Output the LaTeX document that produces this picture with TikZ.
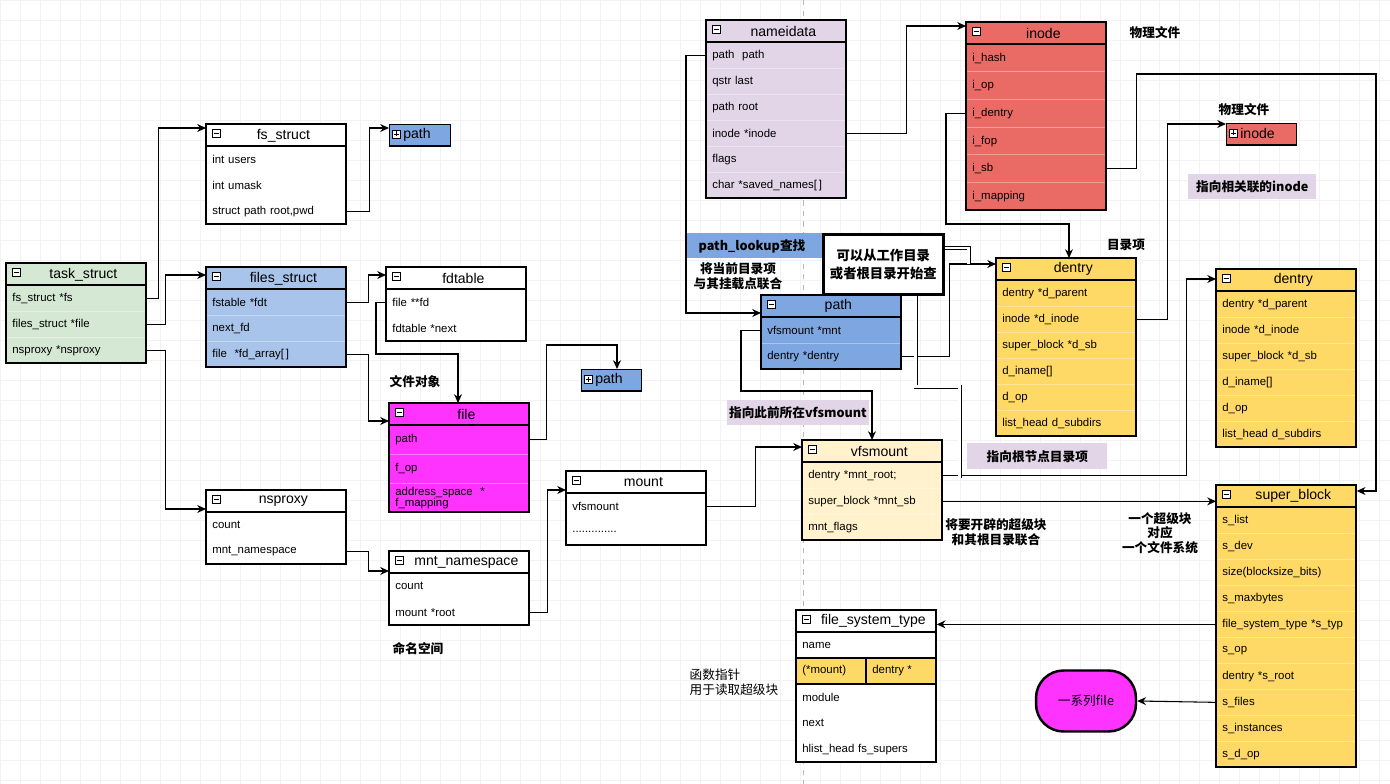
\documentclass[tikz,border=0pt]{standalone}
\usepackage{fontspec}
\setmainfont{Liberation Sans}
\newfontfamily\cjk{Noto Sans CJK SC}
\usetikzlibrary{calc,arrows.meta}
\definecolor{tgreen}{HTML}{D5E8D4}
\definecolor{tblue}{HTML}{A9C4EB}
\definecolor{tpath}{HTML}{7EA6E0}
\definecolor{tmag}{HTML}{FF33FF}
\definecolor{tpurp}{HTML}{E1D5E7}
\definecolor{tred}{HTML}{EA6B66}
\definecolor{tden}{HTML}{FFD966}
\definecolor{tyel}{HTML}{FFF2CC}
\tikzset{
  hdr/.style={inner sep=0pt, font=\fontsize{8}{9}\selectfont},
  row/.style={font=\fontsize{6.5}{7.6}\selectfont, align=left, inner xsep=0.12cm, inner ysep=0pt},
  arr/.style={line width=0.6pt, -{Stealth[length=5pt,width=4.5pt]}},
  dbl/.style={line width=0.5pt, double=white, double distance=1.3pt},
  lbl/.style={font=\cjk\bfseries\fontsize{7.2}{8.6}\selectfont, align=center, inner sep=1pt},
  plbl/.style={lbl, fill=tpurp, anchor=north west},
  cbox/.style={draw, line width=0.6pt, anchor=north west, minimum height=0.43cm, inner sep=0pt, font=\fontsize{8}{9}\selectfont}
}
\newcommand\ubox[9]{%
  \pgfmathsetlengthmacro\bw{#4*0.02cm}%
  \pgfmathsetlengthmacro\bh{#5*0.02cm}%
  \pgfmathsetlengthmacro\rh{#6*0.02cm}%
  \pgfmathsetlengthmacro\tw{(#4-12)*0.02cm}%
  \node[hdr, fill=#7, minimum width=\bw, minimum height=\bh, anchor=north west] (#1) at (#2,#3) {\hspace{8pt}#8};
  \foreach \rowtxt [count=\i] in {#9}{%
    \node[row, fill=#7, minimum height=\rh, text width=\tw, anchor=north west] (#1-\i) at ({#2},{#3+#5+(\i-1)*#6}) {\rowtxt};
    \draw[white, opacity=.35, line width=0.5pt] ({#2},{#3+#5+(\i-1)*#6}) -- ++(#4,0);
    \xdef\nr{\i}}%
  \draw[line width=0.6pt] (#2,#3) rectangle ({#2+#4},{#3+#5+\nr*#6});
  \draw[line width=0.6pt] (#2,{#3+#5}) -- ++(#4,0);
  \draw[fill=white, line width=0.4pt] ({#2+6},{#3+5}) rectangle ++(8,8);
  \draw[line width=0.5pt] ({#2+7.5},{#3+9}) -- ++(5,0);
}
\newcommand\cicon[2]{%
  \draw[fill=white, line width=0.4pt] ({#1+3},{#2+6}) rectangle ++(8,8);
  \draw[line width=0.5pt] ({#1+4.5},{#2+10}) -- ++(5,0) ({#1+7},{#2+7.5}) -- ++(0,5);
}
\begin{document}
\begin{tikzpicture}[x=0.02cm,y=-0.02cm]
\useasboundingbox (0,0) rectangle (1390,784);
\fill[white] (0,0) rectangle (1390,784);
\draw[gray!10, line width=0.3pt, step=0.4cm] (0,0) grid (1390,784);
\draw[gray!55, dashed, line width=0.4pt] (803,0) -- (803,784);

% boxes
\ubox{task}{6}{263}{140}{22}{26}{tgreen}{task\_struct}{fs\_struct *fs, files\_struct *file, nsproxy *nsproxy}
\ubox{fs}{206}{124}{140}{22}{26}{white}{fs\_struct}{int users, int umask, {struct path root,pwd}}
\ubox{files}{206}{267}{140}{22}{26}{tblue}{files\_struct}{fstable *fdt, next\_fd, {file \ *fd\_array[\,]}}
\ubox{fdt}{386}{267}{140}{22}{26}{white}{fdtable}{file **fd, fdtable *next}
\ubox{file}{389}{403}{140}{22}{29}{tmag}{file}{path, f\_op, {address\_space \ *\\[-1pt]f\_mapping}}
\ubox{nsp}{206}{490}{140}{22}{26}{white}{nsproxy}{count, mnt\_namespace}
\ubox{mns}{389}{551}{140}{22}{26}{white}{mnt\_namespace}{count, mount *root}
\ubox{mount}{566}{471}{140}{22}{26}{white}{mount}{vfsmount, {\mbox{..............}}}
\ubox{vfs}{802}{440}{140}{22}{26}{tyel}{vfsmount}{dentry *mnt\_root;, super\_block *mnt\_sb, mnt\_flags}
\ubox{pth}{761}{295}{140}{22}{26}{tpath}{path}{vfsmount *mnt, dentry *dentry}
\ubox{nd}{706}{20}{140}{22}{26}{tpurp}{nameidata}{path\ \ path, qstr last, path root, inode *inode, flags, {char *saved\_names[\,]}}
\ubox{inode}{966}{22}{140}{22}{27.67}{tred}{inode}{i\_hash, i\_op, i\_dentry, i\_fop, i\_sb, i\_mapping}
\ubox{den1}{996}{258}{140}{22}{26}{tden}{dentry}{dentry *d\_parent, inode *d\_inode, super\_block *d\_sb, d\_iname[], d\_op, list\_head d\_subdirs}
\ubox{den2}{1216}{269}{140}{22}{26}{tden}{dentry}{dentry *d\_parent, inode *d\_inode, super\_block *d\_sb, d\_iname[], d\_op, list\_head d\_subdirs}
\ubox{sb}{1216}{485}{140}{22}{26}{tden}{super\_block}{s\_list, s\_dev, size(blocksize\_bits), s\_maxbytes, {\mbox{file\_system\_type *s\_typ}}, s\_op, dentry *s\_root, s\_files, s\_instances, s\_d\_op}
\ubox{fst}{796}{610}{140}{22}{26}{white}{file\_system\_type}{name, {}, module, next, hlist\_head fs\_supers}
\fill[tden] (796,658) rectangle (936,684);
\draw[line width=0.6pt] (796,658) rectangle (936,684) (866,658) -- (866,684);
\node[row, anchor=west] (fsa) at (796,671) {(*mount)};
\node[row, anchor=west] (fsb) at (866,671) {dentry *};

% collapsed boxes
\node[cbox, fill=tpath, minimum width=1.22cm] (path1) at (389,124) {};
\cicon{389}{124}\node[hdr, anchor=west] at (403,134.5) {path};
\node[cbox, fill=tpath, minimum width=1.2cm] (path2) at (581,369) {};
\cicon{581}{369}\node[hdr, anchor=west] at (595,379.5) {path};
\node[cbox, fill=tred, minimum width=1.4cm] (inode2) at (1226,123) {};
\cicon{1226}{123}\node[hdr, anchor=west] at (1240,133.5) {inode};

% blob
\node[draw, fill=tmag, line width=1.4pt, rounded corners=0.55cm, minimum width=2cm, minimum height=1.22cm, font=\cjk\fontsize{7.2}{8}\selectfont] (blob) at (1086,701) {一系列file};

% labels
\node[fill=tpath, minimum width=3cm, minimum height=0.5cm, anchor=north west, inner sep=0] (plbar) at (686,233) {};
\node[lbl] (pl) at (752,246) {path\_lookup查找};
\node[draw, line width=1.5pt, fill=white, minimum width=2.4cm, minimum height=1.2cm, anchor=north west, lbl, font=\cjk\bfseries\fontsize{7.6}{10}\selectfont] (note) at (822,233) {可以从工作目录\\或者根目录开始查};
\node[lbl] (l1) at (738,276) {将当前目录项\\与其挂载点联合};
\node[lbl] (l2) at (415,382) {文件对象};
\node[lbl] (l3) at (418,649) {命名空间};
\node[plbl, minimum width=2.78cm, minimum height=0.5cm] (l4) at (727,400) {指向此前所在vfsmount};
\node[plbl, minimum width=2.8cm, minimum height=0.52cm] (l5) at (967,443) {指向根节点目录项};
\node[plbl, minimum width=2.56cm, minimum height=0.5cm] (l6) at (1188,174) {指向相关联的inode};
\node[lbl] (l7) at (1126,245) {目录项};
\node[lbl] (l8) at (1155,33) {物理文件};
\node[lbl] (l9) at (1244,110) {物理文件};
\node[lbl, font=\cjk\fontsize{7.2}{8.4}\selectfont\bfseries] (l10) at (996,532) {将要开辟的超级块\\和其根目录联合};
\node[lbl, font=\cjk\fontsize{7.2}{8.4}\selectfont\bfseries] (l11) at (1160,533) {一个超级块\\对应\\一个文件系统};
\node[lbl, font=\cjk\fontsize{7.2}{8.4}\selectfont, align=left] (l12) at (734,682) {函数指针\\用于读取超级块};

% connectors
\coordinate (c1) at (458,354);
\coordinate (c2) at (617,345);
\coordinate (c3) at (872,391);
\coordinate (c4) at (1069,224);
\coordinate (c5) at (1376,74);
\draw[arr] (task-1.east) -- ++(12,0) |- ($(fs.north west)+(0,4)$);
\draw[arr] (task-2.east) -- ++(19,0) |- ($(files.north west)+(0,8)$);
\draw[arr] (task-3.east) -- ++(19,0) |- ($(nsp.north west)+(0,19)$);
\draw[arr] (fs-3.east) -- ++(23,0) |- ($(path1.north west)+(0,4)$);
\draw[arr] (files-1.east) -- ++(22,0) |- ($(fdt.north west)+(0,8)$);
\draw[arr] (files-3.east) -- ++(22,0) |- ($(file.north west)+(0,18)$);
\draw[arr] (fdt-1.west) -- ++(-10,0) |- (c1) -- (c1 |- file.north);
\draw[arr] (file-1.east) -- ++(17,0) |- (c2) -- (c2 |- path2.north);
\draw[arr] (nsp-2.east) -- ++(22,0) |- ($(mns.north west)+(0,20)$);
\draw[arr] (mns-2.east) -- ++(18,0) |- ($(mount.north west)+(0,19)$);
\draw[arr] (mount-1.east) -- ++(49,0) |- ($(vfs.north west)+(0,7)$);
\draw[arr] (nd-1.west) -- ++(-20,0) |- ($(pth.north west)+(0,18)$);
\draw[arr] (nd-4.east) -- ++(60,0) |- ($(inode.north west)+(0,4)$);
\draw[arr] (pth-1.west) -- ++(-20,0) |- (c3) -- (c3 |- vfs.north);
\draw[arr] (pth-2.east) -- ++(48,0) |- ($(den1.north west)+(0,6)$);
\draw[arr] (inode-3.west) -- ++(-20,0) |- (c4) -- (c4 |- den1.north);
\draw[arr] (inode-5.east) -- ++(30,0) |- (c5) |- ($(sb.north east)+(0,6)$);
\draw[arr] (den1-2.east) -- ++(31,0) |- ($(inode2.north west)+(0,1)$);
\draw[arr] (vfs-1.east) -- ++(244,0) |- ($(den2.north west)+(0,10)$);
\draw[arr] (vfs-2.east) -- (vfs-2.east -| sb.west);
\draw[arr] (sb-5.west) -- (sb-5.west -| fst.east);
\draw[arr] (sb-8.west) -- (blob.east);
\draw[dbl] ($(note.north east)+(0,15)$) -- ++(24,0) -- ++(0,16);
\draw[dbl] ($(note.south east)+(-29,0)$) -- ++(0,91) -- ++(44,0) -- ++(0,91);
\end{tikzpicture}
\end{document}
